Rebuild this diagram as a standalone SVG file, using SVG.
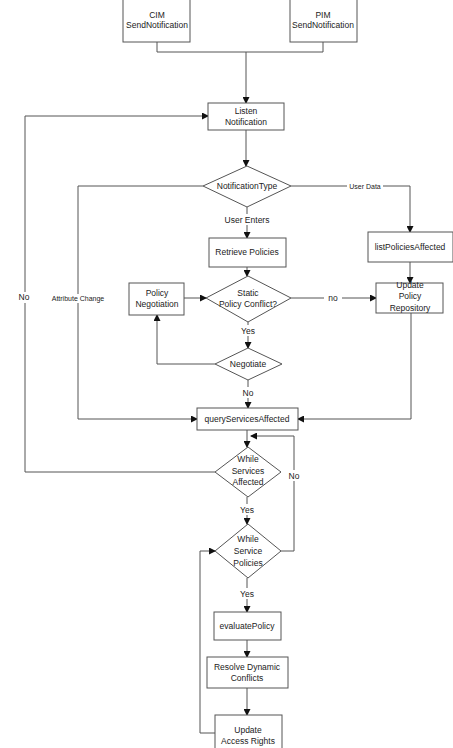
<svg xmlns="http://www.w3.org/2000/svg" width="453" height="748" viewBox="0 0 453 748">
<style>
.b{fill:#fff;stroke:#555;stroke-width:1}
.c{fill:none;stroke:#555;stroke-width:1}
text{font-family:"Liberation Sans",Arial,sans-serif;font-size:8.5px;fill:#222;text-anchor:middle}
.l{fill:#fff}
</style>
<defs>
<marker id="a" markerWidth="7" markerHeight="7" refX="6" refY="3.5" orient="auto" markerUnits="userSpaceOnUse">
<path d="M0,0 L7,3.5 L0,7 Z" fill="#111"/>
</marker>
</defs>
<rect width="453" height="748" fill="#fff"/>
<g id="connectors">
<path class="c" d="M157,42 V52 H323 V42"/>
<path class="c" d="M246,52 V103" marker-end="url(#a)"/>
<path class="c" d="M246,130 V166" marker-end="url(#a)"/>
<path class="c" d="M203,186 H78 V419 H197" marker-end="url(#a)"/>
<path class="c" d="M291,186 H410 V232" marker-end="url(#a)"/>
<path class="c" d="M247,207 V238" marker-end="url(#a)"/>
<path class="c" d="M247,267 V276" marker-end="url(#a)"/>
<path class="c" d="M410,262 V283" marker-end="url(#a)"/>
<path class="c" d="M184,298 H206" marker-end="url(#a)"/>
<path class="c" d="M291,298 H376" marker-end="url(#a)"/>
<path class="c" d="M248,322 V348" marker-end="url(#a)"/>
<path class="c" d="M215,364 H157 V315" marker-end="url(#a)"/>
<path class="c" d="M248,380 V408" marker-end="url(#a)"/>
<path class="c" d="M411,313 V419 H298" marker-end="url(#a)"/>
<path class="c" d="M247,430 V447" marker-end="url(#a)"/>
<path class="c" d="M215,472 H25 V116 H208" marker-end="url(#a)"/>
<path class="c" d="M247,497 V524" marker-end="url(#a)"/>
<path class="c" d="M281,551 H294 V436 H251" marker-end="url(#a)"/>
<path class="c" d="M247,578 V612" marker-end="url(#a)"/>
<path class="c" d="M247,640 V657" marker-end="url(#a)"/>
<path class="c" d="M247,688 V715" marker-end="url(#a)"/>
<path class="c" d="M215,733 H200 V551 H215" marker-end="url(#a)"/>
<rect class="l" x="17" y="292" width="15" height="11"/>
<text x="24" y="300">No</text>
<rect class="l" x="49" y="294" width="58" height="9"/>
<text x="78" y="301" style="font-size:7px">Attribute Change</text>
<rect class="l" x="347" y="182" width="36" height="9"/>
<text x="365" y="189" style="font-size:7px">User Data</text>
<rect class="l" x="220" y="214" width="54" height="11"/>
<text x="247" y="223">User Enters</text>
<rect class="l" x="324" y="294" width="18" height="9"/>
<text x="333" y="301">no</text>
<rect class="l" x="239" y="325" width="18" height="11"/>
<text x="248" y="334">Yes</text>
<rect class="l" x="240" y="387" width="16" height="11"/>
<text x="248" y="396">No</text>
<rect class="l" x="286" y="470" width="16" height="11"/>
<text x="294" y="479">No</text>
<rect class="l" x="238" y="504" width="18" height="11"/>
<text x="247" y="513">Yes</text>
<rect class="l" x="238" y="588" width="18" height="11"/>
<text x="247" y="597">Yes</text>
</g>
<g id="cim"><rect class="b" x="123" y="-1" width="67" height="43"/><text x="157" y="18">CIM</text><text x="157" y="28">SendNotification</text></g>
<g id="pim"><rect class="b" x="290" y="-1" width="67" height="43"/><text x="323" y="18">PIM</text><text x="323" y="28">SendNotification</text></g>
<g id="listen"><rect class="b" x="208" y="103" width="76" height="27"/><text x="246" y="114">Listen</text><text x="246" y="125">Notification</text></g>
<g id="notiftype"><polygon class="b" points="247,166 291,186 247,207 203,186"/><text x="247" y="189">NotificationType</text></g>
<g id="listpolicies"><rect class="b" x="368" y="232" width="85" height="30"/><text x="410" y="250">listPoliciesAffected</text></g>
<g id="retrieve"><rect class="b" x="209" y="238" width="77" height="29"/><text x="247" y="255">Retrieve Policies</text></g>
<g id="static"><polygon class="b" points="248,276 291,298 248,322 206,298"/><text x="248" y="296">Static</text><text x="248" y="307">Policy Conflict?</text></g>
<g id="negotiation"><rect class="b" x="129" y="283" width="55" height="32"/><text x="157" y="296">Policy</text><text x="157" y="307">Negotiation</text></g>
<g id="repository"><rect class="b" x="376" y="283" width="67" height="30"/><text x="410" y="288">Update</text><text x="410" y="299">Policy</text><text x="410" y="311">Repository</text></g>
<g id="negotiate"><polygon class="b" points="248,348 282,364 248,380 215,364"/><text x="248" y="367">Negotiate</text></g>
<g id="query"><rect class="b" x="197" y="408" width="101" height="22"/><text x="247" y="422">queryServicesAffected</text></g>
<g id="whileservices"><polygon class="b" points="248,447 281,472 248,497 215,472"/><text x="248" y="462">While</text><text x="248" y="474">Services</text><text x="248" y="485">Affected</text></g>
<g id="whilepolicies"><polygon class="b" points="248,524 281,551 248,578 215,551"/><text x="248" y="542">While</text><text x="248" y="554">Service</text><text x="248" y="566">Policies</text></g>
<g id="evaluate"><rect class="b" x="214" y="612" width="67" height="28"/><text x="247" y="629">evaluatePolicy</text></g>
<g id="resolve"><rect class="b" x="207" y="657" width="81" height="31"/><text x="247" y="670">Resolve Dynamic</text><text x="247" y="681">Conflicts</text></g>
<g id="access"><rect class="b" x="215" y="715" width="67" height="36"/><text x="248" y="733">Update</text><text x="248" y="744">Access Rights</text></g>
</svg>
